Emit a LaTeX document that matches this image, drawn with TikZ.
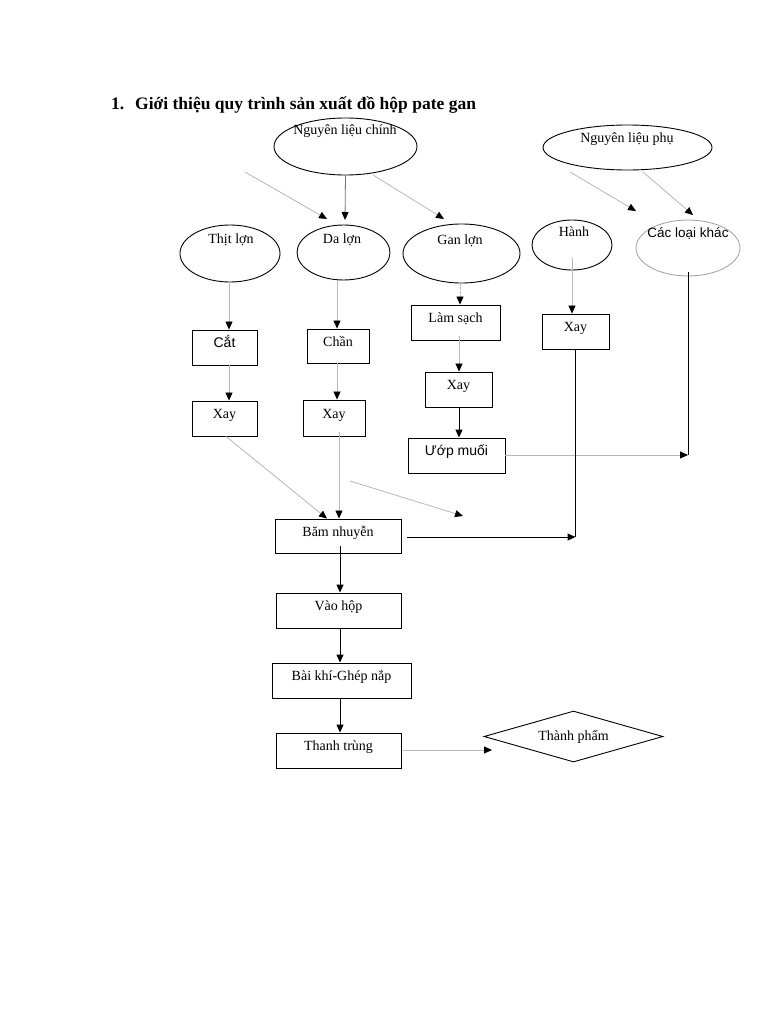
\documentclass[tikz,border=0pt]{standalone}
\usepackage{fontspec}
\setmainfont{Liberation Serif}
\newfontfamily\arialf{Liberation Sans}
\usetikzlibrary{shapes.geometric,arrows.meta}
\tikzset{
  ell/.style={draw=black, line width=0.9pt, ellipse, inner sep=0pt},
  box/.style={draw=black, line width=0.9pt, rectangle, inner sep=0pt, text height=9pt, text depth=9pt, font=\fontsize{14}{15}\selectfont},
  txt/.style={inner sep=0pt, font=\fontsize{14}{15}\selectfont},
  stxt/.style={inner sep=0pt, font=\arialf\fontsize{13.5}{14}\selectfont},
  tip/.style={-{Triangle[black,length=8pt,width=7pt]}},
  gl/.style={draw=black!28, line width=0.8pt, tip},
  bl/.style={draw=black, line width=1pt, tip},
}
\begin{document}
\begin{tikzpicture}[x=1pt,y=-1pt]
\useasboundingbox[fill=white] (0,0) rectangle (768,1024);
% title
\node[anchor=base west, inner sep=0pt, font=\bfseries\fontsize{17.5}{18}\selectfont] (num) at (111,110) {1.};
\node[anchor=base west, inner sep=0pt, font=\bfseries\fontsize{17.5}{18}\selectfont] (title) at (135,110) {Giới thiệu quy trình sản xuất đồ hộp pate gan};
% ellipses
\node[ell, minimum width=143pt, minimum height=57pt] (nlc) at (345.5,146.5) {};
\node[txt] (nlct) at (345,131) {Nguyên liệu chính};
\node[ell, minimum width=169pt, minimum height=45pt] (nlp) at (627.5,147.5) {};
\node[txt] (nlpt) at (627,139) {Nguyên liệu phụ};
\node[ell, minimum width=100pt, minimum height=57pt] (thit) at (230,253.5) {};
\node[txt] (thitt) at (231,240) {Thịt lợn};
\node[ell, minimum width=93pt, minimum height=55pt] (da) at (343.5,252.5) {};
\node[txt] (dat) at (342,240) {Da lợn};
\node[ell, minimum width=117pt, minimum height=59pt] (gan) at (461.5,253.5) {};
\node[txt] (gant) at (460,241) {Gan lợn};
\node[ell, minimum width=80pt, minimum height=50pt] (hanh) at (572,245) {};
\node[txt] (hanht) at (574,232) {Hành};
\node[ell, draw=black!35, minimum width=104pt, minimum height=56pt] (khac) at (688,248) {};
\node[stxt] (khact) at (688,234) {Các loại khác};
% boxes
\node[box, minimum width=65pt, minimum height=35pt, font=\arialf\fontsize{14}{15}\selectfont] (cat) at (224.5,347.5) {Cắt};
\node[box, minimum width=62pt, minimum height=34pt] (chan) at (338,346) {Chần};
\node[box, minimum width=89pt, minimum height=35pt] (lam) at (455.5,322.5) {Làm sạch};
\node[box, minimum width=67pt, minimum height=35pt] (xay4) at (575.5,331.5) {Xay};
\node[box, minimum width=67pt, minimum height=35pt] (xay3) at (458.5,389.5) {Xay};
\node[box, minimum width=65pt, minimum height=35pt] (xay1) at (224.5,418.5) {Xay};
\node[box, minimum width=62pt, minimum height=36pt] (xay2) at (334,418) {Xay};
\node[box, minimum width=97pt, minimum height=35pt, font=\arialf\fontsize{14}{15}\selectfont] (uop) at (456.5,455.5) {Ướp muối};
\node[box, minimum width=126pt, minimum height=34pt] (bam) at (338,536) {Băm nhuyễn};
\node[box, minimum width=125pt, minimum height=35pt] (vao) at (338.5,610.5) {Vào hộp};
\node[box, minimum width=139pt, minimum height=35pt] (bai) at (341.5,680.5) {Bài khí-Ghép nắp};
\node[box, minimum width=125pt, minimum height=35pt] (thanh) at (338.5,750.5) {Thanh trùng};
\node[draw=black, line width=0.9pt, diamond, aspect=3.5, inner sep=0pt, minimum width=179pt, minimum height=51pt, font=\fontsize{14}{15}\selectfont] (tp) at (573.5,736.5) {\raisebox{3pt}{Thành phẩm}};
% free coordinates
\coordinate (a1s) at (245,172); \coordinate (a1e) at (327,219);
\coordinate (a2e) at (345,220);
\coordinate (a3s) at (373,175); \coordinate (a3e) at (444,219);
\coordinate (a4s) at (570,172); \coordinate (a4e) at (636,211);
\coordinate (a5s) at (643,172); \coordinate (a5e) at (693,215);
\coordinate (k1) at (688,455);
\coordinate (h1) at (576,537);
\coordinate (f1s) at (350,481); \coordinate (f1e) at (463,516);
\coordinate (tpe) at (492,750);
% top arrows
\draw[gl] (a1s) -- (a1e);
\draw[gl, draw=black!55] (nlc.south) -- (a2e);
\draw[gl] (a3s) -- (a3e);
\draw[gl] (a4s) -- (a4e);
\draw[gl] (a5s) -- (a5e);
% columns
\draw[gl] ([xshift=4.5pt]cat.north |- thit.south) -- ([xshift=4.5pt]cat.north);
\draw[gl] ([xshift=4.5pt]cat.south) -- ([xshift=4.5pt]xay1.north);
\draw[gl] ([xshift=-1pt]chan.north |- da.south) -- ([xshift=-1pt]chan.north);
\draw[gl] ([xshift=-1pt]chan.south) -- ([xshift=-1pt]chan.south |- xay2.north);
\draw[gl, dash pattern=on 3pt off 1pt] ([xshift=4.5pt]lam.north |- gan.south) -- ([xshift=4.5pt]lam.north);
\draw[gl] ([xshift=3.5pt,yshift=4pt]lam.south) -- ([xshift=3.5pt]lam.south |- xay3.north);
\draw[bl] ([xshift=0.5pt]xay3.south) -- ([xshift=0.5pt]xay3.south |- uop.north);
\draw[gl] ([yshift=12pt]hanh.south) -- (hanh.south |- xay4.north);
\draw[black, line width=1pt] ([yshift=4pt]khac.south) -- (k1);
\draw[gl] (uop.east |- k1) -- (k1);
\draw[black, line width=1pt] (xay4.south) -- (xay4.south |- h1);
\draw[bl] ([xshift=6pt]bam.east |- h1) -- (xay4.south |- h1);
\draw[gl] ([xshift=1.5pt]xay1.south) -- ([xshift=-11pt]bam.north);
\draw[gl] ([xshift=5pt,yshift=4pt]xay2.south) -- ([xshift=5pt]xay2.south |- bam.north);
\draw[gl] (f1s) -- (f1e);
% main chain
\draw[bl] ([yshift=7pt,xshift=2pt]bam.south) -- ([xshift=2pt]bam.south |- vao.north);
\draw[bl] ([xshift=2pt]bam.south |- vao.south) -- ([xshift=2pt]bam.south |- bai.north);
\draw[bl] ([xshift=2pt]bam.south |- bai.south) -- ([xshift=2pt]bam.south |- thanh.north);
\draw[gl] ([xshift=2pt]thanh.east |- tpe) -- (tpe);
\end{tikzpicture}
\end{document}
